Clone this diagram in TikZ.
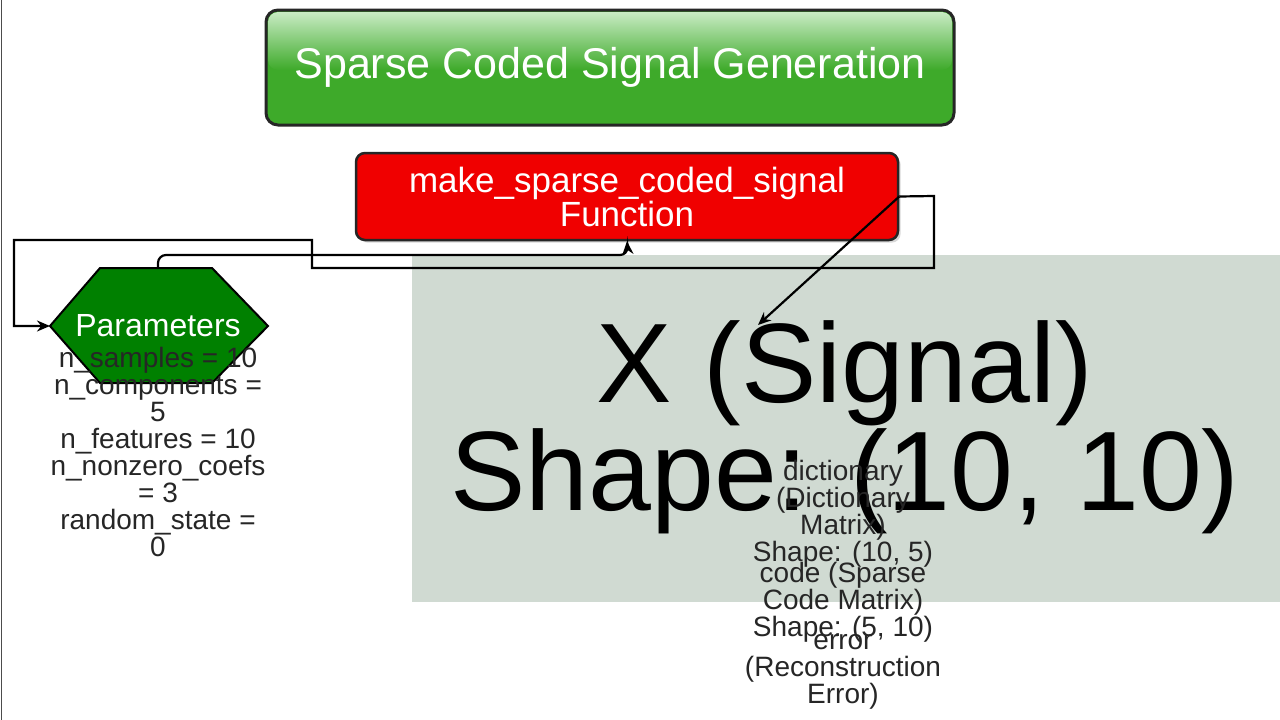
\documentclass[tikz,border=0pt]{standalone}
\usepackage{fontspec}
\setmainfont{Liberation Sans}
\usetikzlibrary{arrows.meta,shadows}
\definecolor{panelgray}{RGB}{208,218,210}
\definecolor{tgreen}{RGB}{62,170,42}
\definecolor{tlight}{RGB}{200,235,195}
\definecolor{fred}{RGB}{240,0,0}
\definecolor{hgreen}{RGB}{0,128,0}
\begin{document}
\begin{tikzpicture}[x=1pt,y=-1pt,
  conn/.style={draw=black,line width=2.2pt,-{Stealth[length=13pt,width=11pt]}},
  small/.style={align=center,font=\fontsize{28}{27}\selectfont,text=black!85}]
\useasboundingbox (0,0) rectangle (1280,720);
\fill[white] (0,0) rectangle (1280,720);
\draw[line width=1pt,black!70] (1,0) -- (1,720);
% gray panel
\fill[panelgray] (412,255) rectangle (1280,602);
% title
\fill[tgreen,rounded corners=12pt] (266,10) rectangle (954,125);
\shade[top color=tlight,bottom color=tgreen,rounded corners=10pt] (268,12) rectangle (952,70);
\draw[line width=3pt,rounded corners=12pt,black!85] (266,10) rectangle (954,125);
\node[text=white,font=\fontsize{43}{50}\selectfont] (title) at (610,67) {Sparse Coded Signal Generation};
% red function box
\node[draw=black!85,line width=2.5pt,fill=fred,rounded corners=9pt,minimum width=542pt,minimum height=87pt,align=center,text=white,font=\fontsize{35}{34}\selectfont,drop shadow={opacity=0.3}] (fn) at (627,196.5) {make\_sparse\_coded\_signal\\Function};
% hexagon
\fill[hgreen] (100,268) -- (212,268) -- (268,326) -- (212,383) -- (100,383) -- (50,326) -- cycle;
\draw[line width=2pt,black] (100,268) -- (212,268) -- (268,326) -- (212,383) -- (100,383) -- (50,326) -- cycle;
\node[text=white,font=\fontsize{32}{36}\selectfont] (par) at (158,326) {Parameters};
\coordinate (partop) at (158,268);
\coordinate (parleft) at (50,326);
\node[small,anchor=north] (plist) at (158,344) {n\_samples = 10\\n\_components =\\5\\n\_features = 10\\n\_nonzero\_coefs\\= 3\\random\_state =\\0};
% connectors
\draw[conn,rounded corners=8pt] (partop) -- (158,255) -- (628,255) -- (fn.south);
\draw[conn] (fn.east) -- (934,196) -- (934,268) -- (312,268) -- (312,240) -- (14,240) -- (14,326) -- (parleft);
\coordinate (xarr) at (758,325);
\draw[conn] (fn.east) -- (xarr);
% big text
\node[align=center,font=\fontsize{113}{108}\selectfont,text=black] (sig) at (845,427) {X (Signal)\\Shape: (10, 10)};
\node[small,anchor=north] (dict) at (843,457) {dictionary\\(Dictionary\\Matrix)\\Shape: (10, 5)};
\node[small,anchor=north] (code) at (843,559) {code (Sparse\\Code Matrix)\\Shape: (5, 10)};
\node[small,anchor=north] (err) at (843,631) {error\\(Reconstruction\\Error)};
\end{tikzpicture}
\end{document}
